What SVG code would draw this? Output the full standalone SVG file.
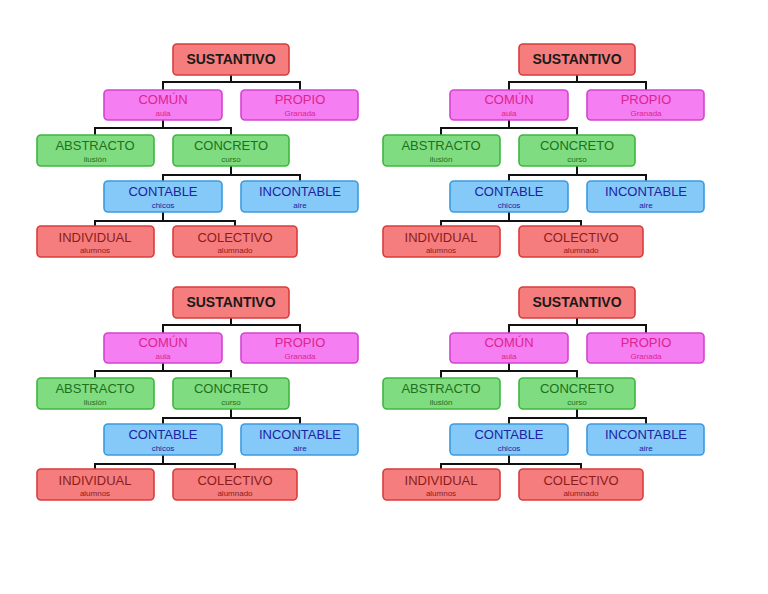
<svg xmlns="http://www.w3.org/2000/svg" width="768" height="594" viewBox="0 0 768 594">
<style>
rect{stroke-width:1.6}
.r rect{fill:#f57d7d;stroke:#d93c3c}
.m rect{fill:#f47ef2;stroke:#d244cf}
.g rect{fill:#80dc80;stroke:#3fb63f}
.b rect{fill:#84c9f7;stroke:#3b9be0}
text{font-family:"Liberation Sans",Arial,sans-serif;text-anchor:middle}
.t{font-size:13px}
.s{font-size:8px}
.r text{fill:#8c1c1c}
.m text{fill:#e0238e}
.g text{fill:#1d701d}
.b text{fill:#1f22a3}
.top text.t{fill:#1a1a1a;font-weight:bold;font-size:14px}
.c path{fill:none;stroke:#111;stroke-width:2}
</style>
<rect width="768" height="594" fill="#fff" stroke="none"/>
<g id="tree1">
<g class="c" id="conn1"><path d="M231 75V82M163 90V82H300V90M163 120V128M95 135V128H231V135M231 166V175M163 181V175H300V181M163 212V221M95 226V221H235V226"/></g>
<g id="t1-sustantivo" class="r top"><rect x="173" y="44" width="116" height="31" rx="4"/><text class="t" x="231" y="64">SUSTANTIVO</text></g>
<g id="t1-comun" class="m"><rect x="104" y="90" width="118" height="30" rx="4"/><text class="t" x="163" y="104">COMÚN</text><text class="s" x="163" y="116">aula</text></g>
<g id="t1-propio" class="m"><rect x="241" y="90" width="117" height="30" rx="4"/><text class="t" x="300" y="104">PROPIO</text><text class="s" x="300" y="116">Granada</text></g>
<g id="t1-abstracto" class="g"><rect x="37" y="135" width="117" height="31" rx="4"/><text class="t" x="95" y="150">ABSTRACTO</text><text class="s" x="95" y="162">ilusión</text></g>
<g id="t1-concreto" class="g"><rect x="173" y="135" width="116" height="31" rx="4"/><text class="t" x="231" y="150">CONCRETO</text><text class="s" x="231" y="162">curso</text></g>
<g id="t1-contable" class="b"><rect x="104" y="181" width="118" height="31" rx="4"/><text class="t" x="163" y="196">CONTABLE</text><text class="s" x="163" y="208">chicos</text></g>
<g id="t1-incontable" class="b"><rect x="241" y="181" width="117" height="31" rx="4"/><text class="t" x="300" y="196">INCONTABLE</text><text class="s" x="300" y="208">aire</text></g>
<g id="t1-individual" class="r"><rect x="37" y="226" width="117" height="31" rx="4"/><text class="t" x="95" y="242">INDIVIDUAL</text><text class="s" x="95" y="253">alumnos</text></g>
<g id="t1-colectivo" class="r"><rect x="173" y="226" width="124" height="31" rx="4"/><text class="t" x="235" y="242">COLECTIVO</text><text class="s" x="235" y="253">alumnado</text></g>
</g>
<g id="tree2" transform="translate(346 0)">
<g class="c" id="conn2"><path d="M231 75V82M163 90V82H300V90M163 120V128M95 135V128H231V135M231 166V175M163 181V175H300V181M163 212V221M95 226V221H235V226"/></g>
<g id="t2-sustantivo" class="r top"><rect x="173" y="44" width="116" height="31" rx="4"/><text class="t" x="231" y="64">SUSTANTIVO</text></g>
<g id="t2-comun" class="m"><rect x="104" y="90" width="118" height="30" rx="4"/><text class="t" x="163" y="104">COMÚN</text><text class="s" x="163" y="116">aula</text></g>
<g id="t2-propio" class="m"><rect x="241" y="90" width="117" height="30" rx="4"/><text class="t" x="300" y="104">PROPIO</text><text class="s" x="300" y="116">Granada</text></g>
<g id="t2-abstracto" class="g"><rect x="37" y="135" width="117" height="31" rx="4"/><text class="t" x="95" y="150">ABSTRACTO</text><text class="s" x="95" y="162">ilusión</text></g>
<g id="t2-concreto" class="g"><rect x="173" y="135" width="116" height="31" rx="4"/><text class="t" x="231" y="150">CONCRETO</text><text class="s" x="231" y="162">curso</text></g>
<g id="t2-contable" class="b"><rect x="104" y="181" width="118" height="31" rx="4"/><text class="t" x="163" y="196">CONTABLE</text><text class="s" x="163" y="208">chicos</text></g>
<g id="t2-incontable" class="b"><rect x="241" y="181" width="117" height="31" rx="4"/><text class="t" x="300" y="196">INCONTABLE</text><text class="s" x="300" y="208">aire</text></g>
<g id="t2-individual" class="r"><rect x="37" y="226" width="117" height="31" rx="4"/><text class="t" x="95" y="242">INDIVIDUAL</text><text class="s" x="95" y="253">alumnos</text></g>
<g id="t2-colectivo" class="r"><rect x="173" y="226" width="124" height="31" rx="4"/><text class="t" x="235" y="242">COLECTIVO</text><text class="s" x="235" y="253">alumnado</text></g>
</g>
<g id="tree3" transform="translate(0 243)">
<g class="c" id="conn3"><path d="M231 75V82M163 90V82H300V90M163 120V128M95 135V128H231V135M231 166V175M163 181V175H300V181M163 212V221M95 226V221H235V226"/></g>
<g id="t3-sustantivo" class="r top"><rect x="173" y="44" width="116" height="31" rx="4"/><text class="t" x="231" y="64">SUSTANTIVO</text></g>
<g id="t3-comun" class="m"><rect x="104" y="90" width="118" height="30" rx="4"/><text class="t" x="163" y="104">COMÚN</text><text class="s" x="163" y="116">aula</text></g>
<g id="t3-propio" class="m"><rect x="241" y="90" width="117" height="30" rx="4"/><text class="t" x="300" y="104">PROPIO</text><text class="s" x="300" y="116">Granada</text></g>
<g id="t3-abstracto" class="g"><rect x="37" y="135" width="117" height="31" rx="4"/><text class="t" x="95" y="150">ABSTRACTO</text><text class="s" x="95" y="162">ilusión</text></g>
<g id="t3-concreto" class="g"><rect x="173" y="135" width="116" height="31" rx="4"/><text class="t" x="231" y="150">CONCRETO</text><text class="s" x="231" y="162">curso</text></g>
<g id="t3-contable" class="b"><rect x="104" y="181" width="118" height="31" rx="4"/><text class="t" x="163" y="196">CONTABLE</text><text class="s" x="163" y="208">chicos</text></g>
<g id="t3-incontable" class="b"><rect x="241" y="181" width="117" height="31" rx="4"/><text class="t" x="300" y="196">INCONTABLE</text><text class="s" x="300" y="208">aire</text></g>
<g id="t3-individual" class="r"><rect x="37" y="226" width="117" height="31" rx="4"/><text class="t" x="95" y="242">INDIVIDUAL</text><text class="s" x="95" y="253">alumnos</text></g>
<g id="t3-colectivo" class="r"><rect x="173" y="226" width="124" height="31" rx="4"/><text class="t" x="235" y="242">COLECTIVO</text><text class="s" x="235" y="253">alumnado</text></g>
</g>
<g id="tree4" transform="translate(346 243)">
<g class="c" id="conn4"><path d="M231 75V82M163 90V82H300V90M163 120V128M95 135V128H231V135M231 166V175M163 181V175H300V181M163 212V221M95 226V221H235V226"/></g>
<g id="t4-sustantivo" class="r top"><rect x="173" y="44" width="116" height="31" rx="4"/><text class="t" x="231" y="64">SUSTANTIVO</text></g>
<g id="t4-comun" class="m"><rect x="104" y="90" width="118" height="30" rx="4"/><text class="t" x="163" y="104">COMÚN</text><text class="s" x="163" y="116">aula</text></g>
<g id="t4-propio" class="m"><rect x="241" y="90" width="117" height="30" rx="4"/><text class="t" x="300" y="104">PROPIO</text><text class="s" x="300" y="116">Granada</text></g>
<g id="t4-abstracto" class="g"><rect x="37" y="135" width="117" height="31" rx="4"/><text class="t" x="95" y="150">ABSTRACTO</text><text class="s" x="95" y="162">ilusión</text></g>
<g id="t4-concreto" class="g"><rect x="173" y="135" width="116" height="31" rx="4"/><text class="t" x="231" y="150">CONCRETO</text><text class="s" x="231" y="162">curso</text></g>
<g id="t4-contable" class="b"><rect x="104" y="181" width="118" height="31" rx="4"/><text class="t" x="163" y="196">CONTABLE</text><text class="s" x="163" y="208">chicos</text></g>
<g id="t4-incontable" class="b"><rect x="241" y="181" width="117" height="31" rx="4"/><text class="t" x="300" y="196">INCONTABLE</text><text class="s" x="300" y="208">aire</text></g>
<g id="t4-individual" class="r"><rect x="37" y="226" width="117" height="31" rx="4"/><text class="t" x="95" y="242">INDIVIDUAL</text><text class="s" x="95" y="253">alumnos</text></g>
<g id="t4-colectivo" class="r"><rect x="173" y="226" width="124" height="31" rx="4"/><text class="t" x="235" y="242">COLECTIVO</text><text class="s" x="235" y="253">alumnado</text></g>
</g>
</svg>
